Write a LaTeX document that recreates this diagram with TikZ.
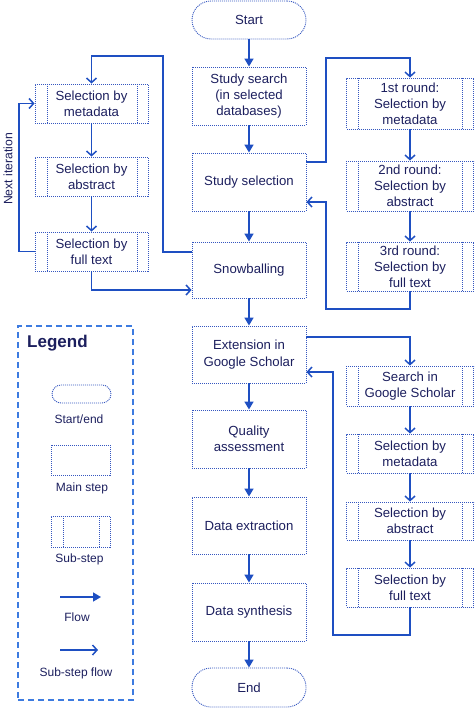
\documentclass[tikz,border=0pt]{standalone}
\usepackage{fontspec}
\setmainfont{Liberation Sans}
\usetikzlibrary{arrows.meta}
\definecolor{txt}{HTML}{1C1F5E}
\definecolor{boxc}{HTML}{3557C0}
\definecolor{arr}{HTML}{1E4FC2}
\definecolor{leg}{HTML}{3D7BE0}
\begin{document}
\begin{tikzpicture}[x=1pt,y=-1pt,
  base/.style={draw=boxc, line width=0.9pt, dash pattern=on 1pt off 1pt, text=txt, align=center, font=\fontsize{13.2}{16.2}\selectfont, inner sep=0pt},
  mainbox/.style={base, rectangle, minimum width=114pt},
  termbox/.style={base, rectangle, rounded corners=19pt, minimum width=114pt},
  substep/.style={base, rectangle, path picture={\draw[boxc, line width=0.9pt, dash pattern=on 1pt off 1pt] ([xshift=12pt]path picture bounding box.north west) -- ([xshift=12pt]path picture bounding box.south west) ([xshift=-11pt]path picture bounding box.north east) -- ([xshift=-11pt]path picture bounding box.south east);}},
  leftsub/.style={substep, minimum width=113pt},
  rightsub/.style={substep, minimum width=127pt},
  flow/.style={draw=arr, line width=1.6pt, -{Triangle[length=8pt,width=9pt]}},
  subflow/.style={draw=arr, line width=1.5pt, -{Straight Barb[length=4.5pt,width=10pt]}},
  legtext/.style={text=txt, font=\fontsize{12}{14}\selectfont, inner sep=0pt},
]
\useasboundingbox (0,0) rectangle (474,708);

% main column
\node[termbox, minimum height=38pt] (start) at (249,20) {Start};
\node[mainbox, minimum height=58pt] (search) at (249,96) {Study search\\(in selected\\databases)};
\node[mainbox, minimum height=58pt] (sel) at (249,182) {Study selection};
\node[mainbox, minimum height=56pt] (snow) at (249,270) {Snowballing};
\node[mainbox, minimum height=57pt] (ext) at (249,354.5) {Extension in\\Google Scholar};
\node[mainbox, minimum height=58pt] (qual) at (249,439) {Quality\\assessment};
\node[mainbox, minimum height=57pt] (extr) at (249,525.5) {Data extraction};
\node[mainbox, minimum height=58pt] (synth) at (249,612) {Data synthesis};
\node[termbox, minimum height=39pt] (end) at (249,687.5) {End};

% left sub-steps
\node[leftsub, minimum height=39pt] (lmeta) at (91.5,103.5) {Selection by\\metadata};
\node[leftsub, minimum height=39pt] (labs) at (91.5,176.5) {Selection by\\abstract};
\node[leftsub, minimum height=39pt] (lfull) at (91.5,251.5) {Selection by\\full text};

% right top sub-steps
\node[rightsub, minimum height=51pt] (r1) at (410,103.5) {1st round:\\Selection by\\metadata};
\node[rightsub, minimum height=50pt] (r2) at (410,186) {2nd round:\\Selection by\\abstract};
\node[rightsub, minimum height=49pt] (r3) at (410,266.5) {3rd round:\\Selection by\\full text};

% right bottom sub-steps
\node[rightsub, minimum height=40pt] (g1) at (410,386) {Search in\\Google Scholar};
\node[rightsub, minimum height=39pt] (g2) at (410,453.5) {Selection by\\metadata};
\node[rightsub, minimum height=38pt] (g3) at (410,521) {Selection by\\abstract};
\node[rightsub, minimum height=39pt] (g4) at (410,587.5) {Selection by\\full text};

\node[rotate=90, text=txt, font=\fontsize{12.2}{14}\selectfont, inner sep=0pt] (nextit) at (8,169) {Next iteration};

% main flow
\draw[flow] (start) -- (search);
\draw[flow] (search) -- (sel);
\draw[flow] (sel) -- (snow);
\draw[flow] (snow) -- (ext);
\draw[flow] (ext) -- (qual);
\draw[flow] (qual) -- (extr);
\draw[flow] (extr) -- (synth);
\draw[flow] (synth) -- (end);

% sub-step flows
\draw[subflow] (lmeta) -- (labs);
\draw[subflow] (labs) -- (lfull);
\draw[subflow] (r1) -- (r2);
\draw[subflow] (r2) -- (r3);
\draw[subflow] (g1) -- (g2);
\draw[subflow] (g2) -- (g3);
\draw[subflow] (g3) -- (g4);

\draw[subflow] (snow.west |- 0,252) -- (163,252) |- (lmeta.north |- 0,56) -- (lmeta.north);
\draw[subflow] (lfull.west) -- (lfull.west -| 19,0) |- (lmeta.west);
\draw[subflow] (lfull.south) |- (snow.west |- 0,290);
\draw[subflow] (sel.east |- 0,162) -| (326,58) -| (r1.north);
\draw[subflow] (r3.south) |- (326,309) |- (sel.east |- 0,202);
\draw[subflow] (ext.east |- 0,337) -| (g1.north);
\draw[subflow] (g4.south) |- (333,635) |- (ext.east |- 0,372);

% legend
\node[draw=leg, line width=1.3pt, dash pattern=on 6pt off 4pt, minimum width=115pt, minimum height=374pt, inner sep=0pt] (legend) at (75.5,513) {};
\node[anchor=west, text=txt, font=\bfseries\fontsize{17}{20}\selectfont, inner sep=0pt] (legtitle) at (27,343) {Legend};
\node[base, rectangle, rounded corners=9pt, minimum width=59pt, minimum height=18pt] (lg1) at (81.5,394) {};
\node[legtext] (lt1) at (79,419) {Start/end};
\node[base, rectangle, minimum width=59pt, minimum height=30pt] (lg2) at (80.5,460) {};
\node[legtext] (lt2) at (82,488) {Main step};
\node[substep, minimum width=59pt, minimum height=31pt] (lg3) at (80.5,531.5) {};
\node[legtext] (lt3) at (79.5,559) {Sub-step};
\coordinate (fa) at (60,597);
\coordinate (fb) at (101,597);
\draw[flow] (fa) -- (fb);
\node[legtext] (lt4) at (77,617) {Flow};
\coordinate (sa) at (60,650);
\coordinate (sb) at (98,650);
\draw[subflow] (sa) -- (sb);
\node[legtext] (lt5) at (76,673) {Sub-step flow};
\end{tikzpicture}
\end{document}
